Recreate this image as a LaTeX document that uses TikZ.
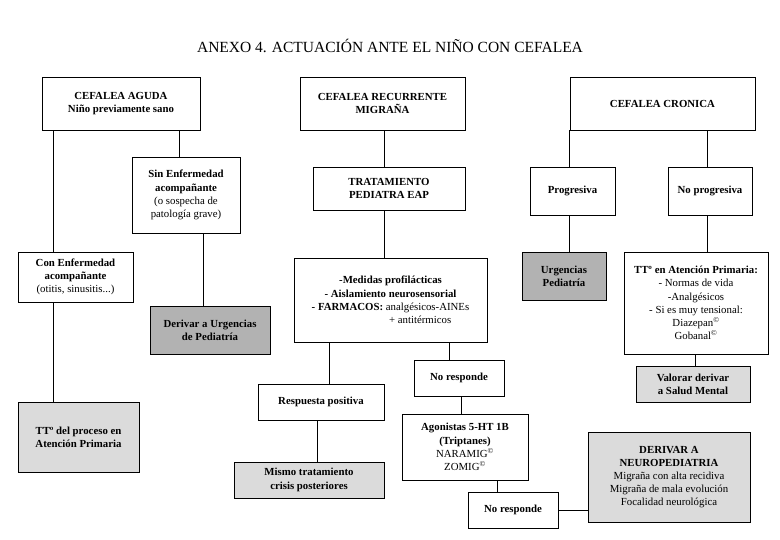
\documentclass[tikz,border=0pt]{standalone}
\usepackage{fontspec}
\setmainfont{Liberation Serif}
\begin{document}
\begin{tikzpicture}[x=1pt,y=-1pt,
  box/.style={draw,line width=0.6pt,rectangle,align=center,inner sep=1pt,font=\fontsize{10.8}{13.2}\selectfont},
  dk/.style={fill=gray!60},
  lt/.style={fill=gray!28},
  ln/.style={line width=0.6pt}]
\useasboundingbox (0,0) rectangle (780,540);
\node[font=\fontsize{15.5}{17}\selectfont] (title) at (390,46) {ANEXO 4. ACTUACIÓN ANTE EL NIÑO CON CEFALEA};
\node[box,minimum width=158,minimum height=53] (aguda) at (121,103.5) {\textbf{CEFALEA AGUDA}\\\textbf{Niño previamente sano}};
\node[box,minimum width=165,minimum height=53] (recur) at (382.5,103.5) {\textbf{CEFALEA RECURRENTE}\\\textbf{MIGRAÑA}};
\node[box,minimum width=185,minimum height=53] (cron) at (662.5,103.5) {\textbf{CEFALEA CRONICA}};
\node[box,minimum width=108,minimum height=76] (sin) at (186,195) {\textbf{Sin Enfermedad}\\\textbf{acompañante}\\(o sospecha de\\patología grave)};
\node[box,minimum width=152,minimum height=43] (trat) at (389,188.5) {\textbf{TRATAMIENTO}\\\textbf{PEDIATRA EAP}};
\node[box,minimum width=85,minimum height=48] (prog) at (572.5,191) {\textbf{Progresiva}};
\node[box,minimum width=84,minimum height=48] (noprog) at (710,191) {\textbf{No progresiva}};
\node[box,minimum width=115,minimum height=50] (con) at (75.5,277) {\textbf{Con Enfermedad}\\\textbf{acompañante}\\(otitis, sinusitis...)};
\node[box,minimum width=193,minimum height=84] (med) at (390.5,300) {\textbf{-Medidas profilácticas}\\\textbf{- Aislamiento neurosensorial}\\\textbf{- FARMACOS:} analgésicos-AINEs\\\hspace*{5.5em}+ antitérmicos};
\node[box,dk,minimum width=84,minimum height=48] (urg) at (564,276) {\textbf{Urgencias}\\\textbf{Pediatría}};
\node[box,minimum width=144,minimum height=102] (ttap) at (696,303) {\textbf{TTº en Atención Primaria:}\\- Normas de vida\\-Analgésicos\\- Si es muy tensional:\\Diazepan\textsuperscript{©}\\Gobanal\textsuperscript{©}};
\node[box,dk,minimum width=120,minimum height=48] (der) at (210,330) {\textbf{Derivar a Urgencias}\\\textbf{de Pediatría}};
\node[box,minimum width=90,minimum height=36] (nr1) at (459,378) {\textbf{No responde}};
\node[box,minimum width=126,minimum height=36] (resp) at (321,402) {\textbf{Respuesta positiva}};
\node[box,lt,minimum width=114,minimum height=36] (val) at (693,384) {\textbf{Valorar derivar}\\\textbf{a Salud Mental}};
\node[box,lt,minimum width=121,minimum height=70] (ttp) at (78.5,437) {\textbf{TTº del proceso en}\\\textbf{Atención Primaria}};
\node[box,minimum width=126,minimum height=66] (ago) at (465,447) {\textbf{Agonistas 5-HT 1B}\\\textbf{(Triptanes)}\\NARAMIG\textsuperscript{©}\\ZOMIG\textsuperscript{©}};
\node[box,lt,minimum width=150,minimum height=36] (mismo) at (309,480) {\textbf{Mismo tratamiento}\\\textbf{crisis posteriores}};
\node[box,lt,minimum width=162,minimum height=90] (neuro) at (669,477) {\textbf{DERIVAR A}\\\textbf{NEUROPEDIATRIA}\\Migraña con alta recidiva\\Migraña de mala evolución\\Focalidad neurológica};
\node[box,minimum width=90,minimum height=36] (nr2) at (513,510) {\textbf{No responde}};
% connectors
\draw[ln] ([xshift=12]aguda.south west) -- ([xshift=36]con.north west);
\draw[ln] ([xshift=36]con.south west) -- ([xshift=36]ttp.north west);
\draw[ln] ([xshift=138]aguda.south west) -- ([xshift=48]sin.north west);
\draw[ln] ([xshift=72]sin.south west) -- ([xshift=54]der.north west);
\draw[ln] ([xshift=85]recur.south west) -- ([xshift=72]trat.north west);
\draw[ln] ([xshift=72]trat.south west) -- ([xshift=91]med.north west);
\draw[ln] ([xshift=36]med.south west) -- ([xshift=72]resp.north west);
\draw[ln] ([xshift=156]med.south west) -- ([xshift=36]nr1.north west);
\draw[ln] ([xshift=60]resp.south west) -- ([xshift=84]mismo.north west);
\draw[ln] ([xshift=48]nr1.south west) -- ([xshift=60]ago.north west);
\draw[ln] ([xshift=96]ago.south west) -- ([xshift=30]nr2.north west);
\draw[ln] (nr2.east) -- (nr2.east -| neuro.west);
\draw[ln] ([xshift=0]cron.south west) -- ([xshift=40]prog.north west);
\draw[ln] ([xshift=40]prog.south west) -- ([xshift=48]urg.north west);
\draw[ln] ([xshift=138]cron.south west) -- ([xshift=40]noprog.north west);
\draw[ln] ([xshift=40]noprog.south west) -- ([xshift=84]ttap.north west);
\draw[ln] ([xshift=72]ttap.south west) -- ([xshift=60]val.north west);
\end{tikzpicture}
\end{document}
